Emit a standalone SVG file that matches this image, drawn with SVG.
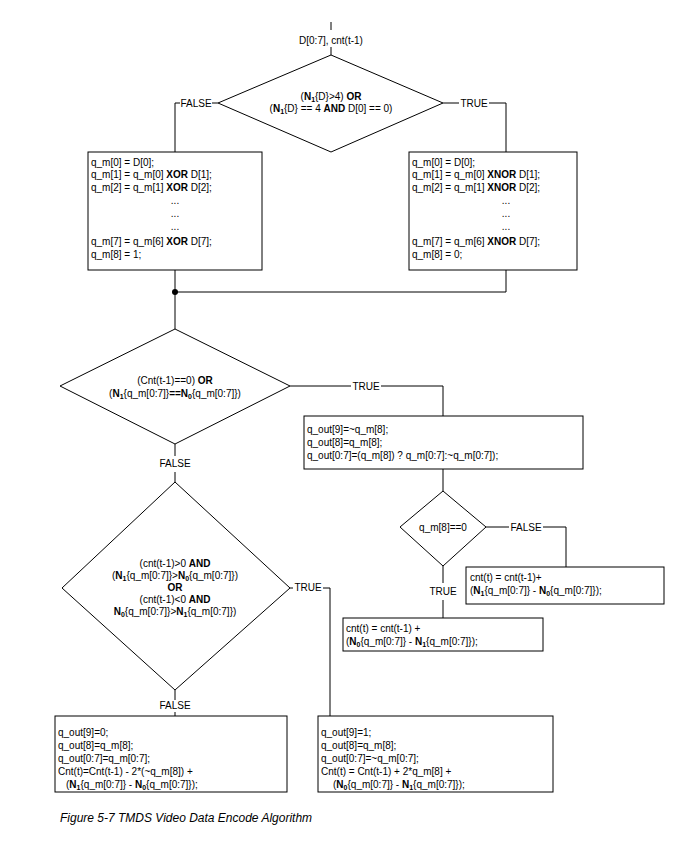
<svg xmlns="http://www.w3.org/2000/svg" width="696" height="841" viewBox="0 0 696 841">
<style>
text{font-family:"Liberation Sans",Arial,sans-serif;font-size:10px;fill:#000}
.c{text-anchor:middle}
.b{font-weight:bold}
.s{font-size:7px;font-weight:bold}
.sh{fill:#fff;stroke:#000;stroke-width:1}
.ln{fill:none;stroke:#000;stroke-width:1}
.lb{fill:#fff}
</style>
<rect width="696" height="841" fill="#fff"/>
<g id="connectors">
<path class="ln" d="M331 22V30M331 47V55"/>
<path class="ln" d="M218 103H175V152M443 103H506V152"/>
<path class="ln" d="M175 270V329M506 270V292H175"/>
<circle cx="175" cy="292" r="3" fill="#000"/>
<path class="ln" d="M290 386H443V416M443 469V491"/>
<path class="ln" d="M486 527H566V567M443 566V583M443 600V618"/>
<path class="ln" d="M175 444V456M175 472V482"/>
<path class="ln" d="M290 588H330V716M175 690V700M175 712V716"/>
<rect class="lb" x="180" y="97" width="32" height="12"/><text x="196" y="107" class="c">FALSE</text>
<rect class="lb" x="459" y="97" width="30" height="12"/><text x="474" y="107" class="c">TRUE</text>
<rect class="lb" x="351" y="380" width="30" height="12"/><text x="366" y="390" class="c">TRUE</text>
<rect class="lb" x="509" y="521" width="34" height="12"/><text x="526" y="531" class="c">FALSE</text>
<rect class="lb" x="293" y="582" width="30" height="12"/><text x="308" y="591" class="c">TRUE</text>
<text x="443" y="595" class="c">TRUE</text>
<text x="175" y="467" class="c">FALSE</text>
<text x="175" y="709" class="c">FALSE</text>
</g>
<g id="input"><text x="331" y="44" class="c">D[0:7], cnt(t-1)</text></g>
<g id="d1">
<polygon class="sh" points="331,55 443,103 331,152 218,103"/>
<text x="331" y="100" class="c">(<tspan class="b">N</tspan><tspan class="s" dy="2">1</tspan><tspan dy="-2">{D}&gt;4) </tspan><tspan class="b">OR</tspan></text>
<text x="331" y="112" class="c">(<tspan class="b">N</tspan><tspan class="s" dy="2">1</tspan><tspan dy="-2">{D} == 4 </tspan><tspan class="b">AND</tspan> D[0] == 0)</text>
</g>
<g id="boxL">
<rect class="sh" x="88" y="152" width="174" height="118"/>
<text x="91" y="166">q_m[0] = D[0];</text>
<text x="91" y="178">q_m[1] = q_m[0] <tspan class="b">XOR</tspan> D[1];</text>
<text x="91" y="191">q_m[2] = q_m[1] <tspan class="b">XOR</tspan> D[2];</text>
<text x="175" y="204" class="c">...</text>
<text x="175" y="217" class="c">...</text>
<text x="175" y="230" class="c">...</text>
<text x="91" y="245">q_m[7] = q_m[6] <tspan class="b">XOR</tspan> D[7];</text>
<text x="91" y="258">q_m[8] = 1;</text>
</g>
<g id="boxR">
<rect class="sh" x="409" y="152" width="168" height="118"/>
<text x="412" y="166">q_m[0] = D[0];</text>
<text x="412" y="178">q_m[1] = q_m[0] <tspan class="b">XNOR</tspan> D[1];</text>
<text x="412" y="191">q_m[2] = q_m[1] <tspan class="b">XNOR</tspan> D[2];</text>
<text x="506" y="204" class="c">...</text>
<text x="506" y="217" class="c">...</text>
<text x="506" y="230" class="c">...</text>
<text x="412" y="245">q_m[7] = q_m[6] <tspan class="b">XNOR</tspan> D[7];</text>
<text x="412" y="258">q_m[8] = 0;</text>
</g>
<g id="d2">
<polygon class="sh" points="175,329 290,386 175,444 60,386"/>
<text x="175" y="384" class="c">(Cnt(t-1)==0) <tspan class="b">OR</tspan></text>
<text x="175" y="397" class="c">(<tspan class="b">N</tspan><tspan class="s" dy="2">1</tspan><tspan dy="-2">{q_m[0:7]}</tspan><tspan class="b">==N</tspan><tspan class="s" dy="2">0</tspan><tspan dy="-2">{q_m[0:7]})</tspan></text>
</g>
<g id="boxT">
<rect class="sh" x="304" y="416" width="279" height="53"/>
<text x="307" y="433">q_out[9]=~q_m[8];</text>
<text x="307" y="446">q_out[8]=q_m[8];</text>
<text x="307" y="459">q_out[0:7]=(q_m[8]) ? q_m[0:7]:~q_m[0:7]);</text>
</g>
<g id="d3">
<polygon class="sh" points="443,491 486,527 443,566 400,527"/>
<text x="443" y="531" class="c">q_m[8]==0</text>
</g>
<g id="boxF3">
<rect class="sh" x="466" y="567" width="198" height="37"/>
<text x="470" y="581">cnt(t) = cnt(t-1)+</text>
<text x="470" y="594">(<tspan class="b">N</tspan><tspan class="s" dy="2">1</tspan><tspan dy="-2">{q_m[0:7]} - </tspan><tspan class="b">N</tspan><tspan class="s" dy="2">0</tspan><tspan dy="-2">{q_m[0:7]});</tspan></text>
</g>
<g id="boxT3">
<rect class="sh" x="343" y="618" width="200" height="33"/>
<text x="346" y="632">cnt(t) = cnt(t-1) +</text>
<text x="346" y="645">(<tspan class="b">N</tspan><tspan class="s" dy="2">0</tspan><tspan dy="-2">{q_m[0:7]} - </tspan><tspan class="b">N</tspan><tspan class="s" dy="2">1</tspan><tspan dy="-2">{q_m[0:7]});</tspan></text>
</g>
<g id="d4">
<polygon class="sh" points="175,482 290,588 175,690 62,588"/>
<text x="175" y="567" class="c">(cnt(t-1)&gt;0 <tspan class="b">AND</tspan></text>
<text x="175" y="579" class="c">(<tspan class="b">N</tspan><tspan class="s" dy="2">1</tspan><tspan dy="-2">{q_m[0:7]}&gt;</tspan><tspan class="b">N</tspan><tspan class="s" dy="2">0</tspan><tspan dy="-2">{q_m[0:7]})</tspan></text>
<text x="175" y="591" class="c b">OR</text>
<text x="175" y="603" class="c">(cnt(t-1)&lt;0 <tspan class="b">AND</tspan></text>
<text x="175" y="615" class="c"><tspan class="b">N</tspan><tspan class="s" dy="2">0</tspan><tspan dy="-2">{q_m[0:7]}&gt;</tspan><tspan class="b">N</tspan><tspan class="s" dy="2">1</tspan><tspan dy="-2">{q_m[0:7]})</tspan></text>
</g>
<g id="boxBL">
<rect class="sh" x="55" y="716" width="232" height="76"/>
<text x="58" y="736">q_out[9]=0;</text>
<text x="58" y="749">q_out[8]=q_m[8];</text>
<text x="58" y="762">q_out[0:7]=q_m[0:7];</text>
<text x="58" y="775">Cnt(t)=Cnt(t-1) - 2*(~q_m[8]) +</text>
<text x="66" y="788">(<tspan class="b">N</tspan><tspan class="s" dy="2">1</tspan><tspan dy="-2">{q_m[0:7]} - </tspan><tspan class="b">N</tspan><tspan class="s" dy="2">0</tspan><tspan dy="-2">{q_m[0:7]});</tspan></text>
</g>
<g id="boxBR">
<rect class="sh" x="318" y="716" width="235" height="76"/>
<text x="321" y="736">q_out[9]=1;</text>
<text x="321" y="749">q_out[8]=q_m[8];</text>
<text x="321" y="762">q_out[0:7]=~q_m[0:7];</text>
<text x="321" y="775">Cnt(t) = Cnt(t-1) + 2*q_m[8] +</text>
<text x="333" y="788">(<tspan class="b">N</tspan><tspan class="s" dy="2">0</tspan><tspan dy="-2">{q_m[0:7]} - </tspan><tspan class="b">N</tspan><tspan class="s" dy="2">1</tspan><tspan dy="-2">{q_m[0:7]});</tspan></text>
</g>
<text x="60" y="822" style="font-size:12px;font-style:italic">Figure 5-7 TMDS Video Data Encode Algorithm</text>
</svg>
